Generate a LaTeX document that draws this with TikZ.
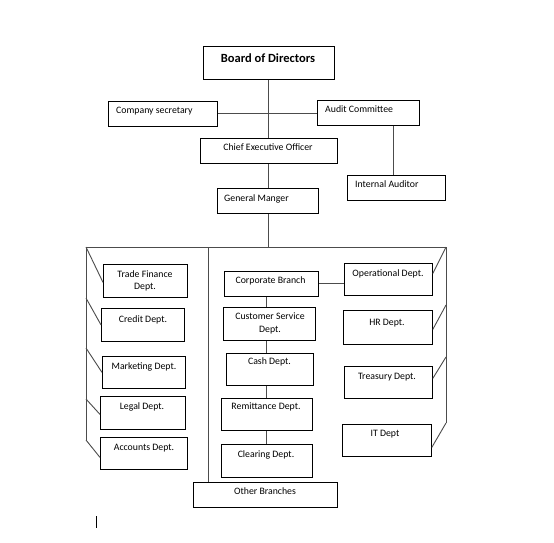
\documentclass[tikz,border=0pt]{standalone}
\usepackage{fontspec}
\setmainfont{Carlito}
\newcommand\orgbox[5]{\node[box,anchor=north west,minimum width={(#4-#2)*1pt},minimum height={(#5-#3)*1pt}] (#1) at (#2,#3) {};}
\begin{document}
\begin{tikzpicture}[x=1pt,y=-1pt,
  box/.style={draw=black,line width=0.8pt,rectangle,inner sep=0pt},
  conn/.style={draw=black!70,line width=0.9pt},
  txtbase/.style={font=\fontsize{9.8}{12.4}\selectfont,inner sep=0pt,align=center},
  txt/.style={txtbase,text height=6pt,text depth=3pt},
  txttwo/.style={txtbase},
  ltxt/.style={txt,anchor=west}]
\useasboundingbox[fill=white] (0,0) rectangle (554,542);
% boxes
\orgbox{bod}{203}{46}{334}{79}
\orgbox{cs}{108}{101}{217}{126}
\orgbox{ac}{317}{100}{419}{125}
\orgbox{ceo}{200}{138}{337}{163}
\orgbox{ia}{347}{175}{445}{200}
\orgbox{gm}{217}{188}{318}{213}
\orgbox{tf}{103}{264}{187}{297}
\orgbox{cr}{101}{308}{184}{341}
\orgbox{mk}{102}{356}{185}{388}
\orgbox{lg}{100}{396}{185}{429}
\orgbox{acc}{100}{437}{187}{469}
\orgbox{cb}{224}{271}{318}{296}
\orgbox{csd}{223}{307}{315}{340}
\orgbox{cash}{226}{353}{313}{385}
\orgbox{rem}{221}{398}{312}{430}
\orgbox{clr}{221}{444}{312}{477}
\orgbox{ob}{193}{482}{337}{507}
\orgbox{op}{344}{263}{432}{295}
\orgbox{hr}{343}{310}{432}{344}
\orgbox{tr}{344}{366}{432}{398}
\orgbox{it}{342}{424}{431}{456}
% texts
\node[txtbase,font=\fontsize{12.5}{14}\selectfont\bfseries,text height=8pt,text depth=3pt] (bodt) at (268,60) {Board of Directors};
\node[ltxt] (cst) at (116,111.5) {Company secretary};
\node[ltxt] (act) at (325,110.5) {Audit Committee};
\node[txt] (ceot) at (268,148.5) {Chief Executive Officer};
\node[ltxt] (iat) at (355,185.5) {Internal Auditor};
\node[ltxt] (gmt) at (224,199.5) {General Manger};
\node[txttwo] (tft) at (145,281) {Trade Finance\\Dept.};
\node[txt] (crt) at (143,320.5) {Credit Dept.};
\node[txt] (mkt) at (144,367.5) {Marketing Dept.};
\node[txt] (lgt) at (142,407.5) {Legal Dept.};
\node[txt] (acct) at (144,448.5) {Accounts Dept.};
\node[txt] (cbt) at (270.5,281.5) {Corporate Branch};
\node[txttwo] (csdt) at (270,323.5) {Customer Service\\Dept.};
\node[txt] (casht) at (269.5,362.5) {Cash Dept.};
\node[txt] (remt) at (266,407.5) {Remittance Dept.};
\node[txt] (clrt) at (266,455.5) {Clearing Dept.};
\node[txt] (obt) at (265,492.5) {Other Branches};
\node[txt] (opt) at (388,274.5) {Operational Dept.};
\node[txt] (hrt) at (387,323.5) {HR Dept.};
\node[txt] (trt) at (387,377.5) {Treasury Dept.};
\node[txt] (itt) at (385,434.5) {IT Dept};
% coordinates
\coordinate (spx) at (268,0);
\coordinate (acx) at (393,0);
\coordinate (chx) at (266,0);
\coordinate (lt) at (86,247);
\coordinate (rt) at (446,247);
\coordinate (mt) at (208,247);
\coordinate (l1) at (86,298);
\coordinate (l2) at (86,348);
\coordinate (l3) at (86,399);
\coordinate (lb) at (86,440);
\coordinate (r1) at (446,305);
\coordinate (r2) at (446,357);
\coordinate (rb) at (446,423);
\coordinate (cur1) at (96,516);
\coordinate (cur2) at (96,528);
% connectors
\draw[conn] (spx |- bod.south) -- (spx |- ceo.north);
\draw[conn] (cs.east) -- (cs.east -| ac.west);
\draw[conn] (spx |- ceo.south) -- (spx |- gm.north);
\draw[conn] (acx |- ac.south) -- (acx |- ia.north);
\draw[conn] (spx |- gm.south) -- (spx |- lt);
\draw[conn] (lt) -- (rt);
\draw[conn] (lt) -- (lb);
\draw[conn] (rt) -- (rb);
\draw[conn] (mt) -- (mt |- ob.north);
\draw[conn] (lt) -- ([yshift=-1.5pt]tf.west);
\draw[conn] (l1) -- (cr.west);
\draw[conn] (l2) -- (mk.west);
\draw[conn] (l3) -- ([yshift=-1.5pt]lg.west);
\draw[conn] (lb) -- ([yshift=-4pt]acc.west);
\draw[conn] (rt) -- ([yshift=6pt]op.east);
\draw[conn] (r1) -- ([yshift=-2pt]hr.east);
\draw[conn] (r2) -- ([yshift=4pt]tr.east);
\draw[conn] (rb) -- ([yshift=-7pt]it.east);
\draw[conn] (cb.east) -- (cb.east -| op.west);
\draw[conn] (chx |- cb.south) -- (chx |- csd.north);
\draw[conn] (chx |- csd.south) -- (chx |- cash.north);
\draw[conn] (chx |- cash.south) -- (chx |- rem.north);
\draw[conn] (chx |- rem.south) -- (chx |- clr.north);
\draw[black,line width=1pt] (cur1) -- (cur2);
\end{tikzpicture}
\end{document}
